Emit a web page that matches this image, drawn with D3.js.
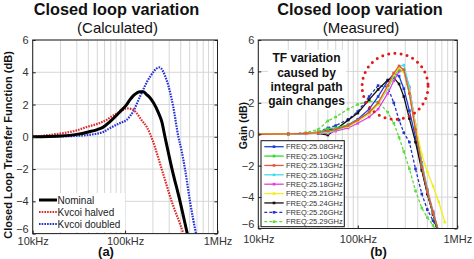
<!DOCTYPE html>
<html>
<head>
<meta charset="utf-8">
<script src="https://cdn.jsdelivr.net/npm/d3@7"></script>
<style>
  body { margin: 0; background: #fff; }
  svg { display: block; font-family: "Liberation Sans", Arial, sans-serif; }
</style>
</head>
<body>
<svg id="chart" width="474" height="259"></svg>
<script>
// ---- axis data
const xTicks = [1e4, 1e5, 1e6];
const xTickLabels = ["10kHz", "100kHz", "1MHz"];
const yTicks = [-6, -4, -2, 0, 2, 4, 6];

// ---- (a) calculated, frequencies in kHz, gain in dB
const nominalF = [10, 20, 30, 40, 50, 58, 69, 88, 104, 113, 123, 134, 145, 157, 171, 186, 202, 229, 249, 270, 322, 393, 471, 520];
const nominalG = [0, 0.05, 0.15, 0.3, 0.45, 0.6, 0.95, 1.55, 2.0, 2.3, 2.55, 2.72, 2.8, 2.8, 2.62, 2.42, 2.12, 1.5, 0.95, 0, -2, -4, -6, -7.1];
const halvedF = [10, 17, 30, 38, 50, 63, 69, 88, 104, 120, 134, 150, 171, 186, 198, 249, 319, 427, 470];
const halvedG = [0, 0.15, 0.4, 0.6, 0.8, 1.05, 1.2, 1.55, 1.76, 1.7, 1.45, 1.05, 0.62, 0.2, -0.2, -2, -4, -6, -6.8];
const doubledF = [10, 20, 30, 38, 50, 58, 69, 88, 104, 123, 145, 186, 234, 282, 332, 377, 410, 445, 504, 585, 640];
const doubledG = [0, 0.02, 0.06, 0.1, 0.2, 0.3, 0.55, 0.85, 1.05, 1.6, 2.5, 3.72, 4.3, 3.5, 1.86, 0, -0.9, -2, -4, -6, -7];

// ---- (b) measured, frequencies in kHz, gain in dB
const measF = [10, 20, 30, 40, 50, 60, 80, 100, 130, 160, 200, 230, 260, 290, 330, 380, 440, 500, 570, 650, 750];
const g2508 = [0, 0.02, 0.05, 0.1, 0.3, 0.3, 0.6, 0.95, 1.6, 2.4, 3.4, 3.85, 3.7, 2.9, 1.5, -0.2, -2.2, -3.8, -5.0, -6.3, -7.5];
const g2510 = [0, 0.02, 0.05, 0.1, 0.35, 0.4, 0.6, 0.9, 1.4, 2.0, 3.0, 3.7, 4.15, 4.0, 2.6, 0.3, -2.0, -3.6, -5.0, -6.2, -7.5];
const g2513 = [0, 0.02, 0.05, 0.1, 0.2, 0.3, 0.55, 0.9, 1.4, 2.0, 3.1, 3.9, 4.35, 4.1, 2.6, 0.3, -2.1, -3.7, -5.0, -6.2, -7.5];
const g2516 = [0, 0.02, 0.04, 0.08, 0.1, 0.25, 0.5, 0.85, 1.3, 1.9, 2.9, 3.7, 4.3, 4.4, 3.0, 0.5, -1.9, -3.6, -5.0, -6.2, -7.5];
const g2518 = [0, 0, 0.03, 0.07, 0.05, 0.2, 0.4, 0.7, 1.1, 1.6, 2.6, 3.4, 4.0, 4.1, 3.0, 0.6, -1.8, -3.5, -4.9, -6.2, -7.5];
const g2521 = [0, 0.02, 0.05, 0.1, 0.15, 0.3, 0.5, 0.85, 1.3, 1.9, 3.0, 3.8, 4.25, 4.0, 2.7, 0.6, -1.3, -2.4, -3.3, -4.3, -5.6];
const g2524 = [0, 0.02, 0.05, 0.05, -0.05, 0.3, 0.9, 1.35, 2.2, 2.85, 3.45, 3.6, 3.2, 2.4, 1.0, -0.5, -2.3, -3.8, -5.1, -6.4, -7.5];
const g2526 = [0, 0.02, 0.05, 0.15, 0.4, 0.55, 0.95, 1.45, 2.4, 3.1, 3.0, 2.0, 0.9, 0.1, -0.5, -2.2, -3.8, -4.8, -5.5, -6.2, -7.5];
const g2529 = [0, 0.02, 0.1, 0.3, 0.85, 1.1, 1.6, 1.9, 2.1, 2.05, 1.4, 0.7, -0.2, -1.1, -2.2, -3.6, -4.7, -5.3, -5.8, -6.5, -7.5];

const measNames = ["FREQ:25.08GHz", "FREQ:25.10GHz", "FREQ:25.13GHz", "FREQ:25.16GHz", "FREQ:25.18GHz",
                   "FREQ:25.21GHz", "FREQ:25.24GHz", "FREQ:25.26GHz", "FREQ:25.29GHz"];
const measGains = [g2508, g2510, g2513, g2516, g2518, g2521, g2524, g2526, g2529];
const measColors = ["#1c3fd8", "#2fd82f", "#e8563a", "#3fdcf0", "#e03ee0", "#f2ee1c", "#111111", "#2233cc", "#5cdc3c"];
const measDashed = [false, false, false, false, false, false, false, true, true];

// annotation: dotted circle centre (kHz, dB) and radius (dB)
const ringCentre = [237, 3.05];
const ringRadius = 2.1;

const svg = d3.select("#chart");

function panel(left, right, top, bottom, id) {
    const x = d3.scaleLog().domain([1e4, 1e6]).range([left, right]);
    const y = d3.scaleLinear().domain([-6, 6]).range([bottom, top]);

    svg.append("clipPath").attr("id", id)
        .append("rect").attr("x", left).attr("y", top)
        .attr("width", right - left).attr("height", bottom - top);

    // grid
    const grid = svg.append("g").attr("stroke", "#d6d6d6").attr("stroke-width", 1);
    grid.selectAll(".gx").data(x.ticks()).enter().append("line")
        .attr("x1", d => x(d)).attr("x2", d => x(d))
        .attr("y1", top).attr("y2", bottom);
    grid.selectAll(".gy").data(yTicks).enter().append("line")
        .attr("x1", left).attr("x2", right)
        .attr("y1", d => y(d)).attr("y2", d => y(d));

    return {x, y, left, right, top, bottom, id};
}

function frame(p, xPad) {
    const tickCol = "#333";
    svg.append("g")
        .attr("transform", "translate(" + p.left + ",0)")
        .call(d3.axisLeft(p.y).tickValues(yTicks).tickSize(-3).tickPadding(4))
        .call(g => g.select(".domain").remove())
        .call(g => g.selectAll("text").attr("font-size", 11).attr("fill", tickCol)
            .attr("dy", d => d === -6 ? "-0.08em" : "0.32em"))
        .call(g => g.selectAll("line").attr("stroke", "#222"));
    svg.append("g")
        .attr("transform", "translate(" + p.right + ",0)")
        .call(d3.axisRight(p.y).tickValues(yTicks).tickSize(-3).tickFormat(""))
        .call(g => g.select(".domain").remove())
        .call(g => g.selectAll("line").attr("stroke", "#222"));
    svg.append("g")
        .attr("transform", "translate(0," + p.bottom + ")")
        .call(d3.axisBottom(p.x).tickValues(xTicks).tickSize(-3).tickPadding(xPad)
            .tickFormat((d, i) => xTickLabels[i]))
        .call(g => g.select(".domain").remove())
        .call(g => g.selectAll("text").attr("font-size", 11).attr("fill", tickCol))
        .call(g => g.selectAll("line").attr("stroke", "#222"));
    svg.append("rect")
        .attr("x", p.left).attr("y", p.top)
        .attr("width", p.right - p.left).attr("height", p.bottom - p.top)
        .attr("fill", "none").attr("stroke", "#222").attr("stroke-width", 1);
}

function title(cx, main, sub) {
    svg.append("text").attr("x", cx).attr("y", 14.5).attr("text-anchor", "middle")
        .attr("font-size", 16.3).attr("font-weight", "bold").attr("fill", "#111").text(main);
    svg.append("text").attr("x", cx + 1).attr("y", 32.5).attr("text-anchor", "middle")
        .attr("font-size", 15).attr("fill", "#111").text(sub);
}

// ================= (a) =================
const pa = panel(32.7, 217.5, 40, 233.6, "clipA");

const lineA = d3.line().x(d => pa.x(d[0] * 1000)).y(d => pa.y(d[1])).curve(d3.curveMonotoneX);
const calc = [
    {name: "Nominal", f: nominalF, g: nominalG, color: "#000", width: 3, dash: null},
    {name: "Kvcoi halved", f: halvedF, g: halvedG, color: "#e02a2a", width: 2.2, dash: "1.6,1.1"},
    {name: "Kvcoi doubled", f: doubledF, g: doubledG, color: "#2430d8", width: 2.2, dash: "1.6,1.1"}
];
const gA = svg.append("g").attr("clip-path", "url(#clipA)");
gA.selectAll("path").data(calc.slice().reverse()).enter().append("path")
    .attr("d", s => lineA(d3.zip(s.f, s.g)))
    .attr("fill", "none")
    .attr("stroke", s => s.color)
    .attr("stroke-width", s => s.width)
    .attr("stroke-dasharray", s => s.dash);

// legend (a)
const legA = svg.append("g");
legA.append("rect").attr("x", 35).attr("y", 193).attr("width", 90).attr("height", 39).attr("fill", "#fff");
calc.forEach((s, i) => {
    const yy = 200 + i * 12;
    legA.append("line").attr("x1", 39).attr("x2", 57).attr("y1", yy).attr("y2", yy)
        .attr("stroke", s.color).attr("stroke-width", s.width).attr("stroke-dasharray", s.dash);
    legA.append("text").attr("x", 57.5).attr("y", yy + 3.6).attr("font-size", 10)
        .attr("fill", "#222").text(s.name);
});

frame(pa, 3.6);
title(116.5, "Closed loop variation", "(Calculated)");

svg.append("text").attr("transform", "translate(11.5,145) rotate(-90)")
    .attr("text-anchor", "middle").attr("font-size", 11).attr("font-weight", "bold")
    .attr("fill", "#111").text("Closed Loop Transfer Function (dB)");
svg.append("text").attr("x", 106).attr("y", 256).attr("text-anchor", "middle")
    .attr("font-size", 13).attr("font-weight", "bold").attr("fill", "#111").text("(a)");

// ================= (b) =================
const pb = panel(258.3, 457.3, 40, 228.5, "clipB");

// annotation text
const note = ["TF variation", "caused by", "integral path", "gain changes"];
svg.append("rect").attr("x", 268).attr("y", 50).attr("width", 78).attr("height", 60).attr("fill", "#fff");
svg.append("g").selectAll("text").data(note).enter().append("text")
    .attr("x", 306.5).attr("y", (d, i) => 62.3 + i * 14.3)
    .attr("text-anchor", "middle").attr("font-size", 12).attr("font-weight", "bold")
    .attr("fill", "#111").text(d => d);

const lineB = d3.line().x(d => pb.x(d[0] * 1000)).y(d => pb.y(d[1]));
const gB = svg.append("g").attr("clip-path", "url(#clipB)");
const meas = measNames.map((n, i) => ({
    name: n, g: measGains[i], color: measColors[i], dashed: measDashed[i]
}));
const order = [7, 8, 0, 6, 4, 3, 1, 5, 2];
order.forEach(i => {
    const s = meas[i];
    const pts = d3.zip(measF, s.g);
    gB.append("path").attr("d", lineB(pts))
        .attr("fill", "none").attr("stroke", s.color).attr("stroke-width", 1.3)
        .attr("stroke-dasharray", s.dashed ? "3,2" : null);
    gB.selectAll(null).data(pts).enter().append("rect")
        .attr("x", d => pb.x(d[0] * 1000) - 1.3).attr("y", d => pb.y(d[1]) - 1.3)
        .attr("width", 2.6).attr("height", 2.6).attr("fill", s.color);
});

// dotted ring
const ringR = pb.y(ringCentre[1] - ringRadius) - pb.y(ringCentre[1]);
svg.append("circle")
    .attr("cx", pb.x(ringCentre[0] * 1000)).attr("cy", pb.y(ringCentre[1])).attr("r", ringR)
    .attr("fill", "none").attr("stroke", "#e01818").attr("stroke-width", 3)
    .attr("stroke-linecap", "round").attr("stroke-dasharray", "0,6.2");

// legend (b)
const legB = svg.append("g");
legB.append("rect").attr("x", 261).attr("y", 140.7).attr("width", 83.3).attr("height", 86)
    .attr("fill", "#fff").attr("stroke", "#111").attr("stroke-width", 1);
meas.forEach((s, i) => {
    const yy = 146.7 + i * 9.375;
    legB.append("line").attr("x1", 264.3).attr("x2", 283.7).attr("y1", yy).attr("y2", yy)
        .attr("stroke", s.color).attr("stroke-width", 1.3)
        .attr("stroke-dasharray", s.dashed ? "3,2" : null);
    legB.append("rect").attr("x", 272.7).attr("y", yy - 1.3).attr("width", 2.6).attr("height", 2.6)
        .attr("fill", s.color);
    legB.append("text").attr("x", 286).attr("y", yy + 2.7).attr("font-size", 7.5)
        .attr("fill", "#333").text(s.name);
});

frame(pb, 6.7);
title(360, "Closed loop variation", "(Measured)");

svg.append("text").attr("transform", "translate(246.5,125.5) rotate(-90)")
    .attr("text-anchor", "middle").attr("font-size", 10.5).attr("font-weight", "bold")
    .attr("fill", "#111").text("Gain (dB)");
svg.append("text").attr("x", 378.5).attr("y", 256).attr("text-anchor", "middle")
    .attr("font-size", 13).attr("font-weight", "bold").attr("fill", "#111").text("(b)");
</script>
</body>
</html>
